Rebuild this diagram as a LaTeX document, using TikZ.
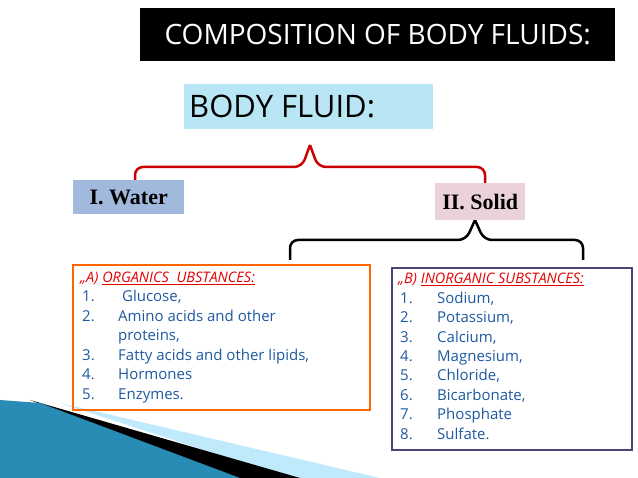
\documentclass[tikz,border=0pt]{standalone}
\usepackage{fontspec}
\setmainfont{Open Sans}
\newfontfamily\serifb{Liberation Serif}
\definecolor{itemblue}{RGB}{30,90,160}
\definecolor{waterbg}{RGB}{160,185,220}
\definecolor{solidbg}{RGB}{235,210,218}
\definecolor{fluidbg}{RGB}{185,230,245}
\definecolor{teal1}{RGB}{40,140,180}
\definecolor{boxblue}{RGB}{70,70,120}
\begin{document}
\begin{tikzpicture}[x=1pt,y=-1pt,
  itm/.style={anchor=base west,inner sep=0,text=itemblue,font=\fontsize{15}{17}\selectfont},
  hdr/.style={anchor=base west,inner sep=0,text=red!90!black,font=\fontsize{14.5}{16}\selectfont\itshape},
  brace/.style={line width=2.5pt,rounded corners=8pt}]
\useasboundingbox (0,0) rectangle (638,478);
\fill[white] (0,0) rectangle (638,478);
% decoration
\fill[cyan!25!white] (60,403) -- (380,478) -- (290,478) -- cycle;
\fill[black] (30,400) -- (300,478) -- (225,478) -- cycle;
\fill[teal1] (0,400) -- (40,403) -- (240,478) -- (0,478) -- cycle;
% title
\node[fill=black,text=white,minimum width=475,minimum height=53,anchor=north west,inner sep=0,font=\fontsize{28}{30}\selectfont] (t) at (140,8) {COMPOSITION OF BODY FLUIDS:};
\node[fill=fluidbg,minimum width=249,minimum height=45,anchor=north west,inner sep=0] (bf) at (184,84) {};
\node[anchor=west,inner sep=0,font=\fontsize{31}{34}\selectfont] (bft) at (189,106) {BODY FLUID:};
% braces
\draw[brace,red!80!black] (135,192) -- (135,167) -- (302,167) -- (310,145);
\draw[brace,red!80!black] (310,145) -- (318,167) -- (485,167) -- (485,188);
\draw[brace,black] (290,260) -- (290,240) -- (466,240) -- (475,220);
\draw[brace,black] (475,220) -- (484,240) -- (583,240) -- (583,260);
\node[fill=waterbg,minimum width=111,minimum height=34,anchor=north west,inner sep=0,font=\serifb\bfseries\fontsize{22}{24}\selectfont] (w) at (73,180) {I. Water};
\node[fill=solidbg,minimum width=90,minimum height=37,anchor=north west,inner sep=0,font=\serifb\bfseries\fontsize{22}{24}\selectfont] (s) at (435,183) {II. Solid};
% boxes
\draw[orange!80!red,line width=2.5pt] (73,265) rectangle (370,410);
\node[hdr] (ha) at (80,283) {„A) \underline{ORGANICS\ \ UBSTANCES:}};
\foreach \n/\tx/\y in {1/{\ Glucose,}/302, 2/{Amino acids and other}/322, 0/{proteins,}/341, 3/{Fatty acids and other lipids,}/361, 4/{Hormones}/380, 5/{Enzymes.}/400}{
  \ifnum\n>0 \node[itm] at (82,\y) {\n.};\fi
  \node[itm] at (118,\y) {\tx};}
\draw[boxblue,line width=2.5pt] (392,268) rectangle (632,450);
\node[hdr] (hb) at (398,284) {„B) \underline{INORGANIC SUBSTANCES:}};
\foreach \tx [count=\i] in {{Sodium,},{Potassium,},{Calcium,},{Magnesium,},{Chloride,},{Bicarbonate,},{Phosphate},{Sulfate.}}{
  \node[itm] at (400,{284+19.4*\i}) {\i.};
  \node[itm] at (437,{284+19.4*\i}) {\tx};}
\end{tikzpicture}
\end{document}
